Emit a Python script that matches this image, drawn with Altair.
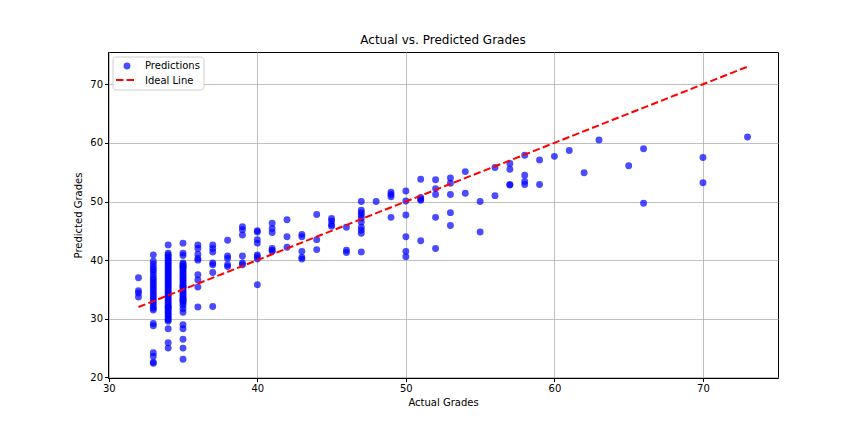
import altair as alt
import pandas as pd

# Actual grade (x) and predicted grade (y) for each student
actual = (
    [32] * 4
    + [33] * 28
    + [34] * 45
    + [35] * 38
    + [36] * 9
    + [37] * 7
    + [38] * 5
    + [39] * 6
    + [40] * 8
    + [41] * 6
    + [42] * 3
    + [43] * 5
    + [44] * 3
    + [45] * 4
    + [46] * 3
    + [47] * 10
    + [48] * 1
    + [49] * 4
    + [50] * 6
    + [51] * 5
    + [52] * 5
    + [53] * 5
    + [54] * 2
    + [55] * 2
    + [56] * 2
    + [57] * 4
    + [58] * 4
    + [59] * 2
    + [60, 61, 62, 63, 65, 66, 66, 70, 70, 73]
)

predicted = (
    # 32
    [37.0, 34.8, 34.4, 33.7]
    # 33
    + [40.9, 39.8, 39.3, 38.8, 38.4, 38.0, 37.5, 37.0, 36.6, 36.2, 35.8, 35.4,
       35.0, 34.6, 34.2, 33.8, 33.4, 33.0, 32.6, 32.2, 31.8, 31.5, 29.2, 28.8,
       24.2, 23.6, 22.6, 22.4]
    # 34
    + [42.6, 41.2, 40.9, 40.6, 40.3, 40.0, 39.7, 39.4, 39.1, 38.8, 38.5, 38.2,
       37.9, 37.6, 37.3, 37.0, 36.7, 36.4, 36.1, 35.8, 35.5, 35.2, 34.9, 34.6,
       34.3, 34.0, 33.7, 33.4, 33.1, 32.8, 32.5, 32.2, 31.9, 31.6, 31.3, 31.0,
       30.7, 30.4, 30.1, 29.8, 29.6, 28.3, 25.9, 25.0, 32.0]
    # 35
    + [42.9, 41.2, 40.8, 39.5, 39.3, 39.0, 38.7, 38.4, 38.1, 37.8, 37.5, 37.2,
       36.9, 36.6, 36.3, 36.0, 35.7, 35.4, 35.1, 34.8, 34.5, 34.2, 33.9, 33.6,
       33.3, 33.0, 32.7, 32.3, 31.7, 31.1, 29.0, 28.3, 26.5, 25.0, 23.1, 38.9,
       35.5, 33.2]
    # 36
    + [42.6, 42.0, 41.0, 40.3, 40.0, 37.5, 36.6, 35.4, 32.0]
    # 37
    + [42.6, 42.0, 41.4, 39.5, 39.2, 37.9, 32.1]
    # 38
    + [43.4, 40.7, 40.3, 39.2, 38.9]
    # 39
    + [45.7, 45.2, 44.3, 40.7, 39.5, 39.2]
    # 40
    + [45.0, 44.8, 43.5, 42.9, 40.9, 40.6, 40.2, 35.8]
    # 41
    + [46.3, 45.4, 44.7, 42.0, 41.7, 41.5]
    # 42
    + [46.9, 44.0, 42.2]
    # 43
    + [44.4, 44.0, 41.5, 40.5, 40.2]
    # 44
    + [47.8, 43.5, 41.8]
    # 45
    + [47.1, 46.7, 46.1, 45.8]
    # 46
    + [45.6, 41.7, 41.3]
    # 47
    + [50.0, 48.5, 48.1, 47.7, 47.2, 46.5, 45.6, 45.1, 44.6, 41.4]
    # 48
    + [50.0]
    # 49
    + [51.6, 51.2, 50.8, 47.3]
    # 50
    + [51.8, 50.1, 47.7, 44.0, 41.5, 40.6]
    # 51
    + [53.8, 50.7, 50.2, 43.3, 50.4]
    # 52
    + [53.7, 52.2, 51.2, 47.3, 42.0]
    # 53
    + [54.0, 53.1, 51.2, 48.1, 45.9]
    # 54
    + [55.1, 51.4]
    # 55
    + [50.0, 44.8]
    # 56
    + [55.8, 51.0]
    # 57
    + [56.5, 55.5, 52.8, 52.9]
    # 58
    + [57.9, 54.5, 53.4, 52.9]
    # 59
    + [57.1, 52.9]
    # 60 .. 73
    + [57.7, 58.7, 54.9, 60.5, 56.1, 59.0, 49.7, 57.5, 53.2, 61.0]
)

ideal_x = [32, 73]
ideal_y = [32, 73]

x_ticks = [30, 40, 50, 60, 70]
y_ticks = [20, 30, 40, 50, 60, 70]

series_names = ["Predictions", "Ideal Line"]

pts = pd.DataFrame({"actual": actual, "predicted": predicted})
line = pd.DataFrame({"actual": ideal_x, "predicted": ideal_y})

FONT = "DejaVu Sans"
DASH = [7.4, 3.2]
PT_SIZE = 48

x_enc = alt.X(
    "actual:Q",
    scale=alt.Scale(domain=[29.95, 75.05], nice=False, zero=False),
    axis=alt.Axis(values=x_ticks, title="Actual Grades", labelFlush=False),
)
y_enc = alt.Y(
    "predicted:Q",
    scale=alt.Scale(domain=[19.9, 75.5], nice=False, zero=False),
    axis=alt.Axis(values=y_ticks, title="Predicted Grades", labelFlush=False),
)

points = alt.Chart(pts).mark_circle(size=PT_SIZE, opacity=0.7, color="blue").encode(
    x=x_enc, y=y_enc
)

ideal = alt.Chart(line).mark_line(strokeDash=DASH, strokeWidth=2, color="red").encode(
    x=x_enc, y=y_enc
)

# Legend (drawn as a small decoration in the upper-left corner)
one = pd.DataFrame({"k": [0]})
leg_box = alt.Chart(one).mark_rect(
    fill="white", stroke="#cccccc", strokeWidth=1, cornerRadius=3, opacity=0.9
).encode(x=alt.value(5), x2=alt.value(96), y=alt.value(5), y2=alt.value(38))
leg_dot = alt.Chart(one).mark_circle(size=PT_SIZE, opacity=0.7, color="blue").encode(
    x=alt.value(19), y=alt.value(14)
)
leg_dash = alt.Chart(one).mark_rule(strokeDash=DASH, strokeWidth=2, color="red").encode(
    x=alt.value(8), x2=alt.value(27), y=alt.value(28)
)
leg_text1 = alt.Chart(one).mark_text(
    align="left", baseline="middle", font=FONT, fontSize=10, color="black", text=series_names[0]
).encode(x=alt.value(37), y=alt.value(13.5))
leg_text2 = alt.Chart(one).mark_text(
    align="left", baseline="middle", font=FONT, fontSize=10, color="black", text=series_names[1]
).encode(x=alt.value(37), y=alt.value(28.5))

chart = (
    alt.layer(points, ideal, leg_box, leg_dot, leg_dash, leg_text1, leg_text2)
    .properties(
        width=670,
        height=326,
        title=alt.TitleParams(
            "Actual vs. Predicted Grades",
            font=FONT,
            fontSize=12,
            fontWeight="normal",
            color="black",
            offset=5,
        ),
        autosize=alt.AutoSizeParams(type="none"),
        padding={"left": 100, "top": 44, "right": 78, "bottom": 46},
    )
    .configure_view(stroke="black", strokeWidth=1)
    .configure_axis(
        labelFont=FONT,
        labelFontSize=10,
        labelColor="black",
        titleFont=FONT,
        titleFontSize=10,
        titleFontWeight="normal",
        titleColor="black",
        domainColor="black",
        tickColor="black",
        tickSize=3.5,
        labelPadding=2,
        gridColor="#b0b0b0",
        gridWidth=0.8,
    )
    .configure_axisX(titlePadding=4)
    .configure_axisY(titlePadding=6)
)

chart.save("out.html", embed_options={"renderer": "svg", "actions": False})
